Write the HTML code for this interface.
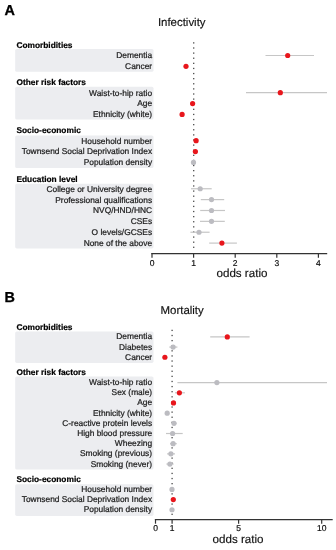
<!DOCTYPE html>
<html><head><meta charset="utf-8"><title>Infectivity and Mortality odds ratios</title>
<style>
html,body{margin:0;padding:0;background:#fff;}
body{width:336px;height:550px;overflow:hidden;}
svg{display:block;text-rendering:geometricPrecision;font-family:"Liberation Sans",Arial,sans-serif;}
</style></head>
<body>
<svg width="336" height="550" viewBox="0 0 336 550">
<rect width="336" height="550" fill="#fff"/>
<text x="4.4" y="15.2" font-size="14.4" font-weight="bold" fill="#000" stroke="#000" stroke-width="0.3">A</text>
<text x="157.9" y="26.2" font-size="11.45" fill="#111" stroke="#111" stroke-width="0.15">Infectivity</text>
<text x="16.4" y="47.5" font-size="8.35" font-weight="bold" fill="#000" stroke="#000" stroke-width="0.2">Comorbidities</text>
<text x="16.4" y="84.7" font-size="8.35" font-weight="bold" fill="#000" stroke="#000" stroke-width="0.2">Other risk factors</text>
<text x="16.4" y="132.8" font-size="8.35" font-weight="bold" fill="#000" stroke="#000" stroke-width="0.2">Socio-economic</text>
<text x="16.4" y="181.9" font-size="8.35" font-weight="bold" fill="#000" stroke="#000" stroke-width="0.2">Education level</text>
<rect x="15.2" y="49.0" width="138.30" height="22.80" rx="1.6" fill="#ecedf0"/>
<rect x="15.2" y="86.7" width="138.30" height="32.90" rx="1.6" fill="#ecedf0"/>
<rect x="15.2" y="135.5" width="138.30" height="32.50" rx="1.6" fill="#ecedf0"/>
<rect x="15.2" y="183.8" width="138.30" height="64.60" rx="1.6" fill="#ecedf0"/>
<rect x="193.05" y="42.25" width="1.3" height="1.3" fill="#4a4a4a"/>
<rect x="193.05" y="47.36" width="1.3" height="1.3" fill="#4a4a4a"/>
<rect x="193.05" y="52.47" width="1.3" height="1.3" fill="#4a4a4a"/>
<rect x="193.05" y="57.58" width="1.3" height="1.3" fill="#4a4a4a"/>
<rect x="193.05" y="62.69" width="1.3" height="1.3" fill="#4a4a4a"/>
<rect x="193.05" y="67.80" width="1.3" height="1.3" fill="#4a4a4a"/>
<rect x="193.05" y="72.91" width="1.3" height="1.3" fill="#4a4a4a"/>
<rect x="193.05" y="78.02" width="1.3" height="1.3" fill="#4a4a4a"/>
<rect x="193.05" y="83.13" width="1.3" height="1.3" fill="#4a4a4a"/>
<rect x="193.05" y="88.24" width="1.3" height="1.3" fill="#4a4a4a"/>
<rect x="193.05" y="93.35" width="1.3" height="1.3" fill="#4a4a4a"/>
<rect x="193.05" y="98.46" width="1.3" height="1.3" fill="#4a4a4a"/>
<rect x="193.05" y="103.57" width="1.3" height="1.3" fill="#4a4a4a"/>
<rect x="193.05" y="108.68" width="1.3" height="1.3" fill="#4a4a4a"/>
<rect x="193.05" y="113.79" width="1.3" height="1.3" fill="#4a4a4a"/>
<rect x="193.05" y="118.90" width="1.3" height="1.3" fill="#4a4a4a"/>
<rect x="193.05" y="124.01" width="1.3" height="1.3" fill="#4a4a4a"/>
<rect x="193.05" y="129.12" width="1.3" height="1.3" fill="#4a4a4a"/>
<rect x="193.05" y="134.23" width="1.3" height="1.3" fill="#4a4a4a"/>
<rect x="193.05" y="139.34" width="1.3" height="1.3" fill="#4a4a4a"/>
<rect x="193.05" y="144.45" width="1.3" height="1.3" fill="#4a4a4a"/>
<rect x="193.05" y="149.56" width="1.3" height="1.3" fill="#4a4a4a"/>
<rect x="193.05" y="154.67" width="1.3" height="1.3" fill="#4a4a4a"/>
<rect x="193.05" y="159.78" width="1.3" height="1.3" fill="#4a4a4a"/>
<rect x="193.05" y="164.89" width="1.3" height="1.3" fill="#4a4a4a"/>
<rect x="193.05" y="170.00" width="1.3" height="1.3" fill="#4a4a4a"/>
<rect x="193.05" y="175.11" width="1.3" height="1.3" fill="#4a4a4a"/>
<rect x="193.05" y="180.22" width="1.3" height="1.3" fill="#4a4a4a"/>
<rect x="193.05" y="185.33" width="1.3" height="1.3" fill="#4a4a4a"/>
<rect x="193.05" y="190.44" width="1.3" height="1.3" fill="#4a4a4a"/>
<rect x="193.05" y="195.55" width="1.3" height="1.3" fill="#4a4a4a"/>
<rect x="193.05" y="200.66" width="1.3" height="1.3" fill="#4a4a4a"/>
<rect x="193.05" y="205.77" width="1.3" height="1.3" fill="#4a4a4a"/>
<rect x="193.05" y="210.88" width="1.3" height="1.3" fill="#4a4a4a"/>
<rect x="193.05" y="215.99" width="1.3" height="1.3" fill="#4a4a4a"/>
<rect x="193.05" y="221.10" width="1.3" height="1.3" fill="#4a4a4a"/>
<rect x="193.05" y="226.21" width="1.3" height="1.3" fill="#4a4a4a"/>
<rect x="193.05" y="231.32" width="1.3" height="1.3" fill="#4a4a4a"/>
<rect x="193.05" y="236.43" width="1.3" height="1.3" fill="#4a4a4a"/>
<rect x="193.05" y="241.54" width="1.3" height="1.3" fill="#4a4a4a"/>
<rect x="193.05" y="246.65" width="1.3" height="1.3" fill="#4a4a4a"/>
<text x="152.1" y="58.40" font-size="8.4" text-anchor="end" fill="#1c1c1c" stroke="#1c1c1c" stroke-width="0.22">Dementia</text>
<line x1="265.5" y1="55.50" x2="314" y2="55.50" stroke="#c6c6c6" stroke-width="1.2"/>
<circle cx="287.7" cy="55.50" r="2.6" fill="#e8161c"/>
<text x="152.1" y="69.27" font-size="8.4" text-anchor="end" fill="#1c1c1c" stroke="#1c1c1c" stroke-width="0.22">Cancer</text>
<circle cx="186.0" cy="66.37" r="2.6" fill="#e8161c"/>
<text x="152.1" y="95.57" font-size="8.4" text-anchor="end" fill="#1c1c1c" stroke="#1c1c1c" stroke-width="0.22">Waist-to-hip ratio</text>
<line x1="246.0" y1="92.67" x2="327.0" y2="92.67" stroke="#c6c6c6" stroke-width="1.2"/>
<circle cx="280.3" cy="92.67" r="2.6" fill="#e8161c"/>
<text x="152.1" y="106.44" font-size="8.4" text-anchor="end" fill="#1c1c1c" stroke="#1c1c1c" stroke-width="0.22">Age</text>
<circle cx="192.6" cy="103.54" r="2.6" fill="#e8161c"/>
<text x="152.1" y="117.31" font-size="8.4" text-anchor="end" fill="#1c1c1c" stroke="#1c1c1c" stroke-width="0.22">Ethnicity (white)</text>
<circle cx="182.1" cy="114.41" r="2.6" fill="#e8161c"/>
<text x="152.1" y="143.61" font-size="8.4" text-anchor="end" fill="#1c1c1c" stroke="#1c1c1c" stroke-width="0.22">Household number</text>
<circle cx="196.1" cy="140.71" r="2.6" fill="#e8161c"/>
<text x="152.1" y="154.48" font-size="8.4" text-anchor="end" fill="#1c1c1c" stroke="#1c1c1c" stroke-width="0.22">Townsend Social Deprivation Index</text>
<circle cx="195.4" cy="151.58" r="2.6" fill="#e8161c"/>
<text x="152.1" y="165.35" font-size="8.4" text-anchor="end" fill="#1c1c1c" stroke="#1c1c1c" stroke-width="0.22">Population density</text>
<circle cx="193.5" cy="162.45" r="2.6" fill="#bcbcc1"/>
<text x="152.1" y="191.65" font-size="8.4" text-anchor="end" fill="#1c1c1c" stroke="#1c1c1c" stroke-width="0.22">College or University degree</text>
<line x1="191.0" y1="188.75" x2="211.7" y2="188.75" stroke="#c6c6c6" stroke-width="1.2"/>
<circle cx="200.2" cy="188.75" r="2.6" fill="#bcbcc1"/>
<text x="152.1" y="202.52" font-size="8.4" text-anchor="end" fill="#1c1c1c" stroke="#1c1c1c" stroke-width="0.22">Professional qualifications</text>
<line x1="200.8" y1="199.62" x2="224.2" y2="199.62" stroke="#c6c6c6" stroke-width="1.2"/>
<circle cx="211.5" cy="199.62" r="2.6" fill="#bcbcc1"/>
<text x="152.1" y="213.39" font-size="8.4" text-anchor="end" fill="#1c1c1c" stroke="#1c1c1c" stroke-width="0.22">NVQ/HND/HNC</text>
<line x1="200.2" y1="210.49" x2="225.0" y2="210.49" stroke="#c6c6c6" stroke-width="1.2"/>
<circle cx="211.5" cy="210.49" r="2.6" fill="#bcbcc1"/>
<text x="152.1" y="224.26" font-size="8.4" text-anchor="end" fill="#1c1c1c" stroke="#1c1c1c" stroke-width="0.22">CSEs</text>
<line x1="200.0" y1="221.36" x2="224.8" y2="221.36" stroke="#c6c6c6" stroke-width="1.2"/>
<circle cx="211.5" cy="221.36" r="2.6" fill="#bcbcc1"/>
<text x="152.1" y="235.13" font-size="8.4" text-anchor="end" fill="#1c1c1c" stroke="#1c1c1c" stroke-width="0.22">O levels/GCSEs</text>
<line x1="190.4" y1="232.23" x2="209.6" y2="232.23" stroke="#c6c6c6" stroke-width="1.2"/>
<circle cx="199.0" cy="232.23" r="2.6" fill="#bcbcc1"/>
<text x="152.1" y="246.00" font-size="8.4" text-anchor="end" fill="#1c1c1c" stroke="#1c1c1c" stroke-width="0.22">None of the above</text>
<line x1="209.2" y1="243.10" x2="236.9" y2="243.10" stroke="#c6c6c6" stroke-width="1.2"/>
<circle cx="221.9" cy="243.10" r="2.6" fill="#e8161c"/>
<line x1="151.4" y1="253.6" x2="327.2" y2="253.6" stroke="#333" stroke-width="1.25"/>
<line x1="152.0" y1="253.0" x2="152.0" y2="257.7" stroke="#333" stroke-width="1.2"/>
<text x="152.0" y="265.5" font-size="8.5" text-anchor="middle" fill="#111" stroke="#111" stroke-width="0.2">0</text>
<line x1="193.6" y1="253.0" x2="193.6" y2="257.7" stroke="#333" stroke-width="1.2"/>
<text x="193.6" y="265.5" font-size="8.5" text-anchor="middle" fill="#111" stroke="#111" stroke-width="0.2">1</text>
<line x1="235.2" y1="253.0" x2="235.2" y2="257.7" stroke="#333" stroke-width="1.2"/>
<text x="235.2" y="265.5" font-size="8.5" text-anchor="middle" fill="#111" stroke="#111" stroke-width="0.2">2</text>
<line x1="276.8" y1="253.0" x2="276.8" y2="257.7" stroke="#333" stroke-width="1.2"/>
<text x="276.8" y="265.5" font-size="8.5" text-anchor="middle" fill="#111" stroke="#111" stroke-width="0.2">3</text>
<line x1="318.4" y1="253.0" x2="318.4" y2="257.7" stroke="#333" stroke-width="1.2"/>
<text x="318.4" y="265.5" font-size="8.5" text-anchor="middle" fill="#111" stroke="#111" stroke-width="0.2">4</text>
<text x="216.5" y="277.2" font-size="11.6" fill="#111" stroke="#111" stroke-width="0.15">odds ratio</text>
<text x="4.6" y="302.1" font-size="14.4" font-weight="bold" fill="#000" stroke="#000" stroke-width="0.3">B</text>
<text x="160.5" y="314.1" font-size="11.45" fill="#111" stroke="#111" stroke-width="0.15">Mortality</text>
<text x="16.4" y="329.6" font-size="8.35" font-weight="bold" fill="#000" stroke="#000" stroke-width="0.2">Comorbidities</text>
<text x="16.4" y="374.6" font-size="8.35" font-weight="bold" fill="#000" stroke="#000" stroke-width="0.2">Other risk factors</text>
<text x="16.4" y="482.2" font-size="8.35" font-weight="bold" fill="#000" stroke="#000" stroke-width="0.2">Socio-economic</text>
<rect x="15.2" y="331.4" width="138.30" height="31.50" rx="1.6" fill="#ecedf0"/>
<rect x="15.2" y="376.4" width="138.30" height="93.20" rx="1.6" fill="#ecedf0"/>
<rect x="15.2" y="484.2" width="138.30" height="31.70" rx="1.6" fill="#ecedf0"/>
<rect x="171.45" y="329.75" width="1.3" height="1.3" fill="#4a4a4a"/>
<rect x="171.45" y="334.86" width="1.3" height="1.3" fill="#4a4a4a"/>
<rect x="171.45" y="339.97" width="1.3" height="1.3" fill="#4a4a4a"/>
<rect x="171.45" y="345.07" width="1.3" height="1.3" fill="#4a4a4a"/>
<rect x="171.45" y="350.18" width="1.3" height="1.3" fill="#4a4a4a"/>
<rect x="171.45" y="355.29" width="1.3" height="1.3" fill="#4a4a4a"/>
<rect x="171.45" y="360.40" width="1.3" height="1.3" fill="#4a4a4a"/>
<rect x="171.45" y="365.51" width="1.3" height="1.3" fill="#4a4a4a"/>
<rect x="171.45" y="370.62" width="1.3" height="1.3" fill="#4a4a4a"/>
<rect x="171.45" y="375.73" width="1.3" height="1.3" fill="#4a4a4a"/>
<rect x="171.45" y="380.83" width="1.3" height="1.3" fill="#4a4a4a"/>
<rect x="171.45" y="385.94" width="1.3" height="1.3" fill="#4a4a4a"/>
<rect x="171.45" y="391.05" width="1.3" height="1.3" fill="#4a4a4a"/>
<rect x="171.45" y="396.16" width="1.3" height="1.3" fill="#4a4a4a"/>
<rect x="171.45" y="401.27" width="1.3" height="1.3" fill="#4a4a4a"/>
<rect x="171.45" y="406.38" width="1.3" height="1.3" fill="#4a4a4a"/>
<rect x="171.45" y="411.48" width="1.3" height="1.3" fill="#4a4a4a"/>
<rect x="171.45" y="416.59" width="1.3" height="1.3" fill="#4a4a4a"/>
<rect x="171.45" y="421.70" width="1.3" height="1.3" fill="#4a4a4a"/>
<rect x="171.45" y="426.81" width="1.3" height="1.3" fill="#4a4a4a"/>
<rect x="171.45" y="431.92" width="1.3" height="1.3" fill="#4a4a4a"/>
<rect x="171.45" y="437.02" width="1.3" height="1.3" fill="#4a4a4a"/>
<rect x="171.45" y="442.13" width="1.3" height="1.3" fill="#4a4a4a"/>
<rect x="171.45" y="447.24" width="1.3" height="1.3" fill="#4a4a4a"/>
<rect x="171.45" y="452.35" width="1.3" height="1.3" fill="#4a4a4a"/>
<rect x="171.45" y="457.46" width="1.3" height="1.3" fill="#4a4a4a"/>
<rect x="171.45" y="462.57" width="1.3" height="1.3" fill="#4a4a4a"/>
<rect x="171.45" y="467.67" width="1.3" height="1.3" fill="#4a4a4a"/>
<rect x="171.45" y="472.78" width="1.3" height="1.3" fill="#4a4a4a"/>
<rect x="171.45" y="477.89" width="1.3" height="1.3" fill="#4a4a4a"/>
<rect x="171.45" y="483.00" width="1.3" height="1.3" fill="#4a4a4a"/>
<rect x="171.45" y="488.11" width="1.3" height="1.3" fill="#4a4a4a"/>
<rect x="171.45" y="493.22" width="1.3" height="1.3" fill="#4a4a4a"/>
<rect x="171.45" y="498.32" width="1.3" height="1.3" fill="#4a4a4a"/>
<rect x="171.45" y="503.43" width="1.3" height="1.3" fill="#4a4a4a"/>
<rect x="171.45" y="508.54" width="1.3" height="1.3" fill="#4a4a4a"/>
<rect x="171.45" y="513.65" width="1.3" height="1.3" fill="#4a4a4a"/>
<text x="152.1" y="339.40" font-size="8.4" text-anchor="end" fill="#1c1c1c" stroke="#1c1c1c" stroke-width="0.22">Dementia</text>
<line x1="210.2" y1="336.90" x2="249.6" y2="336.90" stroke="#c6c6c6" stroke-width="1.2"/>
<circle cx="227.3" cy="336.90" r="2.6" fill="#e8161c"/>
<text x="152.1" y="349.58" font-size="8.4" text-anchor="end" fill="#1c1c1c" stroke="#1c1c1c" stroke-width="0.22">Diabetes</text>
<line x1="169.3" y1="347.08" x2="177.4" y2="347.08" stroke="#c6c6c6" stroke-width="1.2"/>
<circle cx="173.1" cy="347.08" r="2.6" fill="#bcbcc1"/>
<text x="152.1" y="359.76" font-size="8.4" text-anchor="end" fill="#1c1c1c" stroke="#1c1c1c" stroke-width="0.22">Cancer</text>
<circle cx="164.9" cy="357.26" r="2.6" fill="#e8161c"/>
<text x="152.1" y="385.11" font-size="8.4" text-anchor="end" fill="#1c1c1c" stroke="#1c1c1c" stroke-width="0.22">Waist-to-hip ratio</text>
<line x1="177.4" y1="382.61" x2="327.0" y2="382.61" stroke="#c6c6c6" stroke-width="1.2"/>
<circle cx="216.9" cy="382.61" r="2.6" fill="#bcbcc1"/>
<text x="152.1" y="395.29" font-size="8.4" text-anchor="end" fill="#1c1c1c" stroke="#1c1c1c" stroke-width="0.22">Sex (male)</text>
<line x1="175.0" y1="392.79" x2="184.9" y2="392.79" stroke="#c6c6c6" stroke-width="1.2"/>
<circle cx="179.4" cy="392.79" r="2.6" fill="#e8161c"/>
<text x="152.1" y="405.47" font-size="8.4" text-anchor="end" fill="#1c1c1c" stroke="#1c1c1c" stroke-width="0.22">Age</text>
<circle cx="173.5" cy="402.97" r="2.6" fill="#e8161c"/>
<text x="152.1" y="415.65" font-size="8.4" text-anchor="end" fill="#1c1c1c" stroke="#1c1c1c" stroke-width="0.22">Ethnicity (white)</text>
<circle cx="167.2" cy="413.15" r="2.6" fill="#bcbcc1"/>
<text x="152.1" y="425.83" font-size="8.4" text-anchor="end" fill="#1c1c1c" stroke="#1c1c1c" stroke-width="0.22">C-reactive protein levels</text>
<line x1="171.6" y1="423.33" x2="176.6" y2="423.33" stroke="#c6c6c6" stroke-width="1.2"/>
<circle cx="174.0" cy="423.33" r="2.6" fill="#bcbcc1"/>
<text x="152.1" y="436.01" font-size="8.4" text-anchor="end" fill="#1c1c1c" stroke="#1c1c1c" stroke-width="0.22">High blood pressure</text>
<line x1="166.0" y1="433.51" x2="182.7" y2="433.51" stroke="#c6c6c6" stroke-width="1.2"/>
<circle cx="172.6" cy="433.51" r="2.6" fill="#bcbcc1"/>
<text x="152.1" y="446.19" font-size="8.4" text-anchor="end" fill="#1c1c1c" stroke="#1c1c1c" stroke-width="0.22">Wheezing</text>
<line x1="170.0" y1="443.69" x2="176.8" y2="443.69" stroke="#c6c6c6" stroke-width="1.2"/>
<circle cx="173.1" cy="443.69" r="2.6" fill="#bcbcc1"/>
<text x="152.1" y="456.37" font-size="8.4" text-anchor="end" fill="#1c1c1c" stroke="#1c1c1c" stroke-width="0.22">Smoking (previous)</text>
<line x1="167.1" y1="453.87" x2="175.0" y2="453.87" stroke="#c6c6c6" stroke-width="1.2"/>
<circle cx="170.9" cy="453.87" r="2.6" fill="#bcbcc1"/>
<text x="152.1" y="466.55" font-size="8.4" text-anchor="end" fill="#1c1c1c" stroke="#1c1c1c" stroke-width="0.22">Smoking (never)</text>
<line x1="166.4" y1="464.05" x2="173.6" y2="464.05" stroke="#c6c6c6" stroke-width="1.2"/>
<circle cx="169.9" cy="464.05" r="2.6" fill="#bcbcc1"/>
<text x="152.1" y="491.90" font-size="8.4" text-anchor="end" fill="#1c1c1c" stroke="#1c1c1c" stroke-width="0.22">Household number</text>
<circle cx="172.0" cy="489.40" r="2.6" fill="#bcbcc1"/>
<text x="152.1" y="502.08" font-size="8.4" text-anchor="end" fill="#1c1c1c" stroke="#1c1c1c" stroke-width="0.22">Townsend Social Deprivation Index</text>
<circle cx="173.3" cy="499.58" r="2.6" fill="#e8161c"/>
<text x="152.1" y="512.26" font-size="8.4" text-anchor="end" fill="#1c1c1c" stroke="#1c1c1c" stroke-width="0.22">Population density</text>
<circle cx="172.0" cy="509.76" r="2.6" fill="#bcbcc1"/>
<line x1="154.9" y1="519.6" x2="332.7" y2="519.6" stroke="#333" stroke-width="1.25"/>
<line x1="155.5" y1="519.0" x2="155.5" y2="523.7" stroke="#333" stroke-width="1.2"/>
<text x="155.5" y="531.2" font-size="8.5" text-anchor="middle" fill="#111" stroke="#111" stroke-width="0.2">0</text>
<line x1="172.1" y1="519.0" x2="172.1" y2="523.7" stroke="#333" stroke-width="1.2"/>
<text x="172.1" y="531.2" font-size="8.5" text-anchor="middle" fill="#111" stroke="#111" stroke-width="0.2">1</text>
<line x1="238.6" y1="519.0" x2="238.6" y2="523.7" stroke="#333" stroke-width="1.2"/>
<text x="238.6" y="531.2" font-size="8.5" text-anchor="middle" fill="#111" stroke="#111" stroke-width="0.2">5</text>
<line x1="321.7" y1="519.0" x2="321.7" y2="523.7" stroke="#333" stroke-width="1.2"/>
<text x="321.7" y="531.2" font-size="8.5" text-anchor="middle" fill="#111" stroke="#111" stroke-width="0.2">10</text>
<text x="212.6" y="542.6" font-size="11.6" fill="#111" stroke="#111" stroke-width="0.15">odds ratio</text>
</svg>
</body></html>
